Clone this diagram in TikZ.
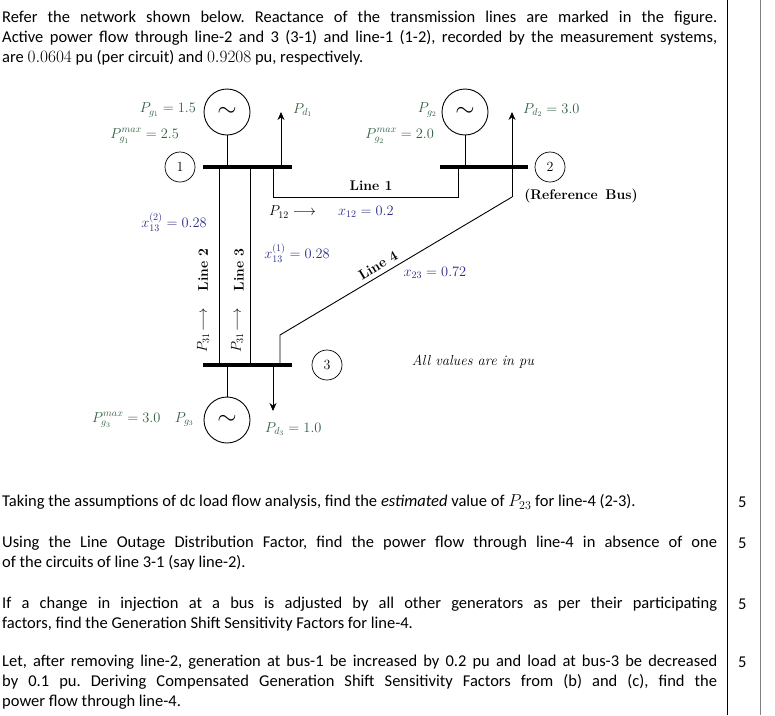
\documentclass[tikz,border=0pt]{standalone}
\usepackage{fontspec}
\usepackage{amsmath}
\newfontfamily\bodyfont{Carlito}
\usetikzlibrary{arrows.meta}
\definecolor{gtxt}{HTML}{2F5F3F}
\definecolor{btxt}{HTML}{2B2B88}
\newcommand{\dfs}{\fontsize{14.5}{17}\selectfont}
\frenchspacing
\tikzset{
  bus/.style={line width=4.5pt},
  wire/.style={line width=0.9pt},
  gen/.style={circle,draw,line width=0.9pt,minimum size=46pt,inner sep=0pt,font=\fontsize{24}{24}\selectfont},
  busno/.style={circle,draw,line width=0.7pt,minimum size=30pt,inner sep=0pt,font=\fontsize{14}{14}\selectfont},
  arr/.style={wire,-{Stealth[length=8pt,width=7pt]}},
  gl/.style={text=gtxt,font=\dfs,inner sep=1pt},
  bl/.style={text=btxt,font=\dfs,inner sep=1pt},
  ln/.style={font=\bfseries\fontsize{14}{16}\selectfont,inner sep=1pt},
  body/.style={font=\bodyfont\fontsize{16.5}{19}\selectfont\frenchspacing,anchor=west,inner sep=0pt},
}
\newcommand{\jl}[1]{\makebox[715pt][s]{#1}}
\begin{document}
\begin{tikzpicture}[x=1pt,y=-1pt]
\useasboundingbox (0,0) rectangle (775,715);
\draw[line width=0.8pt] (727,0) -- (727,715);
\draw[line width=0.8pt,gray] (760,0) -- (760,715);
% header
\node[body] (h1) at (2,18) {\jl{Refer the network shown below. Reactance of the transmission lines are marked in the figure.}};
\node[body] (h2) at (2,38) {\jl{Active power flow through line-2 and 3 (3-1) and line-1 (1-2), recorded by the measurement systems,}};
\node[body] (h3) at (2,58) {are $0.0604$ pu (per circuit) and $0.9208$ pu, respectively.};
% buses
\coordinate (b1l) at (203,167); \coordinate (b1r) at (292,167);
\coordinate (b2l) at (440,167); \coordinate (b2r) at (528,167);
\coordinate (b3l) at (203,365); \coordinate (b3r) at (292,365);
\draw[bus] (b1l) -- (b1r);
\draw[bus] (b2l) -- (b2r);
\draw[bus] (b3l) -- (b3r);
\node[gen] (g1) at (227,112) {$\sim$};
\node[gen] (g2) at (465,112) {$\sim$};
\node[gen] (g3) at (227,420) {$\sim$};
\draw[wire] (g1.south) -- (227,167);
\draw[wire] (g2.south) -- (465,167);
\draw[wire] (g3.north) -- (227,365);
\node[busno] (n1) at (180,167) {1};
\node[busno] (n2) at (550,167) {2};
\node[busno] (n3) at (327,365) {3};
% loads
\coordinate (pd1) at (281,112);
\coordinate (pd2) at (512,112);
\coordinate (pd3) at (273,411);
\draw[arr] (281,167) -- (pd1);
\draw[arr] (512,197) -- (pd2);
\draw[arr] (273,365) -- (pd3);
% lines
\draw[wire] (273,167) -- (273,197) -- (458,197) -- (458,167);
\draw[wire] (219,167) -- (219,365);
\draw[wire] (250,167) -- (250,365);
\draw[wire] (280,365) -- (280,335) -- (512,197);
% labels
\node[gl,anchor=east] (lpg1) at (197,110) {$P_{g_1}=1.5$};
\node[gl,anchor=east] (lpm1) at (180,136) {$P_{g_1}^{max}=2.5$};
\node[gl,anchor=west] (lpd1) at (292,110) {$P_{d_1}$};
\node[gl,anchor=east] (lpg2) at (438,110) {$P_{g_2}$};
\node[gl,anchor=east] (lpm2) at (435,136) {$P_{g_2}^{max}=2.0$};
\node[gl,anchor=west] (lpd2) at (522,110) {$P_{d_2}=3.0$};
\node[gl,anchor=east] (lpg3) at (195,420) {$P_{g_3}^{max}=3.0\quad P_{g_3}$};
\node[gl,anchor=west] (lpd3) at (264,429) {$P_{d_3}=1.0$};
\node[ln] (l1) at (371,186) {Line 1};
\node[ln] (rb) at (581,196) {(Reference\, Bus)};
\node[anchor=west,inner sep=1pt,font=\dfs] (p12) at (268,212) {$P_{12}\longrightarrow$};
\node[bl,anchor=west] (x12) at (337,212) {$x_{12}=0.2$};
\node[bl] (x132) at (174,222) {$x_{13}^{(2)}=0.28$};
\node[bl] (x131) at (297,253) {$x_{13}^{(1)}=0.28$};
\node[ln,rotate=90] (l2) at (203,270) {Line 2};
\node[ln,rotate=90] (l3) at (239,270) {Line 3};
\node[rotate=90,inner sep=1pt,font=\dfs] (p31a) at (203,330) {$P_{31}\!\longrightarrow$};
\node[rotate=90,inner sep=1pt,font=\dfs] (p31b) at (237,330) {$P_{31}\!\longrightarrow$};
\node[ln,rotate=31] (l4) at (378,265) {Line 4};
\node[bl] (x23) at (435,273) {$x_{23}=0.72$};
\node[inner sep=1pt,font=\itshape\dfs] (av) at (473,362) {All values are in pu};
% questions
\node[body] (q1) at (2,502) {Taking the assumptions of dc load flow analysis, find the \textit{estimated} value of $P_{23}$ for line-4 (2-3).};
\node[body] (q2a) at (2,543) {\jl{Using the Line Outage Distribution Factor, find the power flow through line-4 in absence of one}};
\node[body] (q2b) at (2,563) {of the circuits of line 3-1 (say line-2).};
\node[body] (q3a) at (2,604) {\jl{If a change in injection at a bus is adjusted by all other generators as per their participating}};
\node[body] (q3b) at (2,624) {factors, find the Generation Shift Sensitivity Factors for line-4.};
\node[body] (q4a) at (2,662) {\jl{Let, after removing line-2, generation at bus-1 be increased by 0.2 pu and load at bus-3 be decreased}};
\node[body] (q4b) at (2,682) {\jl{by 0.1 pu. Deriving Compensated Generation Shift Sensitivity Factors from (b) and (c), find the}};
\node[body] (q4c) at (2,702) {power flow through line-4.};
\foreach \y/\n in {502/m1,543/m2,604/m3,662/m4} \node[body] (\n) at (738,\y) {5};
\end{tikzpicture}
\end{document}
